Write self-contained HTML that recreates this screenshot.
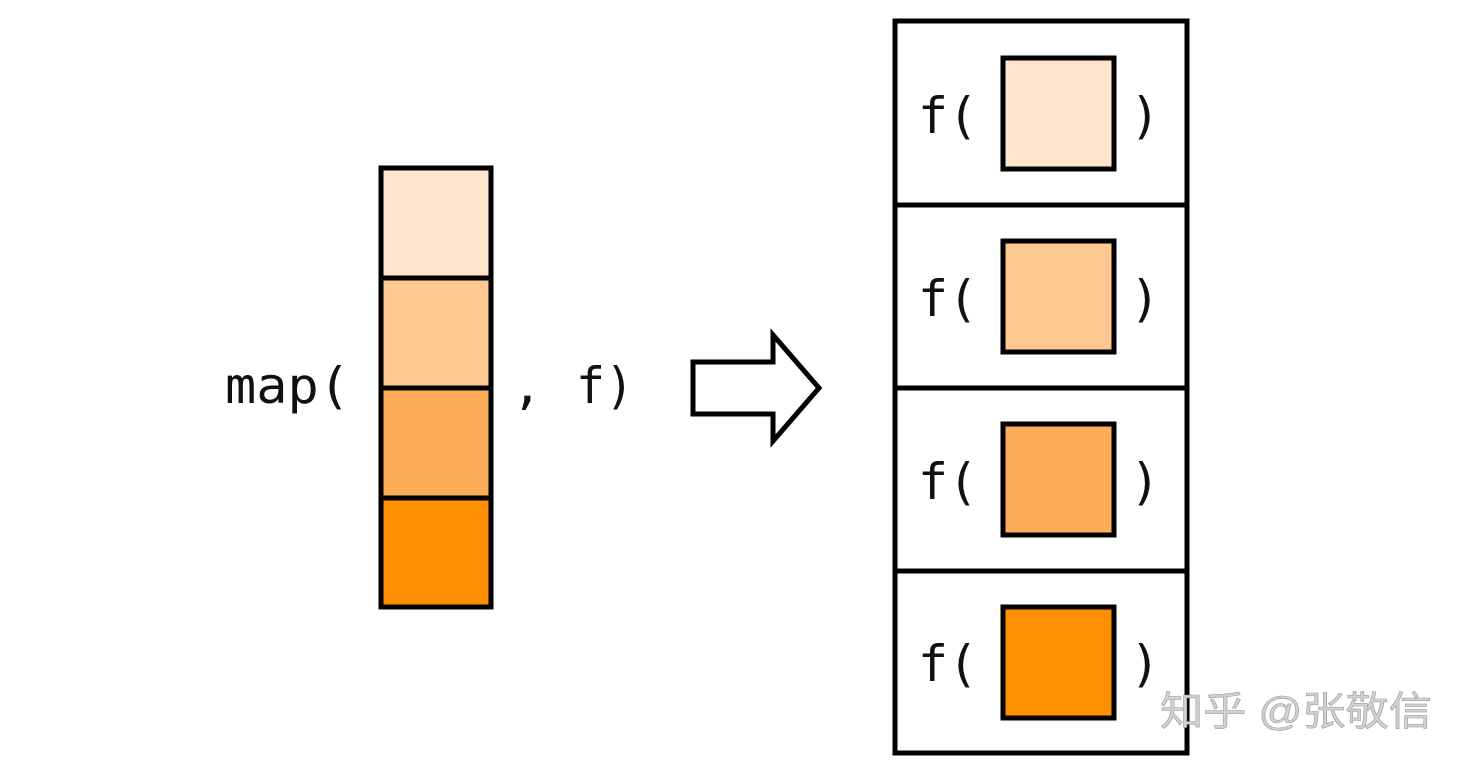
<!DOCTYPE html>
<html><head><meta charset="utf-8"><style>
html,body{margin:0;padding:0;background:#fff;}
svg{display:block;}
text{font-family:"DejaVu Sans Mono","Liberation Mono",monospace;font-size:50px;fill:#111;}
.wm{font-family:"Liberation Sans","Noto Sans CJK SC",sans-serif;font-size:40px;fill:#d2d2d2;stroke:#9a9a9a;stroke-width:0.6px;}
</style></head><body>
<svg width="1470" height="769" viewBox="0 0 1470 769" xmlns="http://www.w3.org/2000/svg">
<g stroke="#000" stroke-width="5">
<rect x="381" y="168" width="110" height="110" fill="#FEE5CB"/>
<rect x="381" y="278" width="110" height="110" fill="#FDC892"/>
<rect x="381" y="388" width="110" height="110" fill="#FDAC58"/>
<rect x="381" y="498" width="110" height="109" fill="#FD8F00"/>
</g>
<text x="225" y="403" textLength="125" lengthAdjust="spacingAndGlyphs">map(</text>
<text x="512" y="403">,</text>
<text x="576" y="403" textLength="58" lengthAdjust="spacingAndGlyphs">f)</text>
<polygon points="693,362 773,362 773,335 819,388 773,441 773,414 693,414" fill="#fff" stroke="#000" stroke-width="5" stroke-linejoin="miter"/>
<g stroke="#000" stroke-width="5" fill="#fff">
<rect x="895" y="21" width="292" height="184"/>
<rect x="895" y="205" width="292" height="183"/>
<rect x="895" y="388" width="292" height="183"/>
<rect x="895" y="571" width="292" height="182"/>
</g>
<g stroke="#000" stroke-width="5">
<rect x="1003" y="58" width="111" height="111" fill="#FEE5CB"/>
<rect x="1003" y="241" width="111" height="111" fill="#FDC892"/>
<rect x="1003" y="424" width="111" height="111" fill="#FDAC58"/>
<rect x="1003" y="607" width="111" height="111" fill="#FD9000"/>
</g>
<g>
<text x="918" y="133" textLength="60" lengthAdjust="spacingAndGlyphs">f(</text>
<text x="1130" y="133">)</text>
<text x="918" y="316" textLength="60" lengthAdjust="spacingAndGlyphs">f(</text>
<text x="1130" y="316">)</text>
<text x="918" y="499" textLength="60" lengthAdjust="spacingAndGlyphs">f(</text>
<text x="1130" y="499">)</text>
<text x="918" y="681" textLength="60" lengthAdjust="spacingAndGlyphs">f(</text>
<text x="1130" y="681">)</text>
</g>
<text class="wm" x="1160" y="725" textLength="272" lengthAdjust="spacingAndGlyphs">知乎 @张敬信</text>
</svg>
</body></html>
